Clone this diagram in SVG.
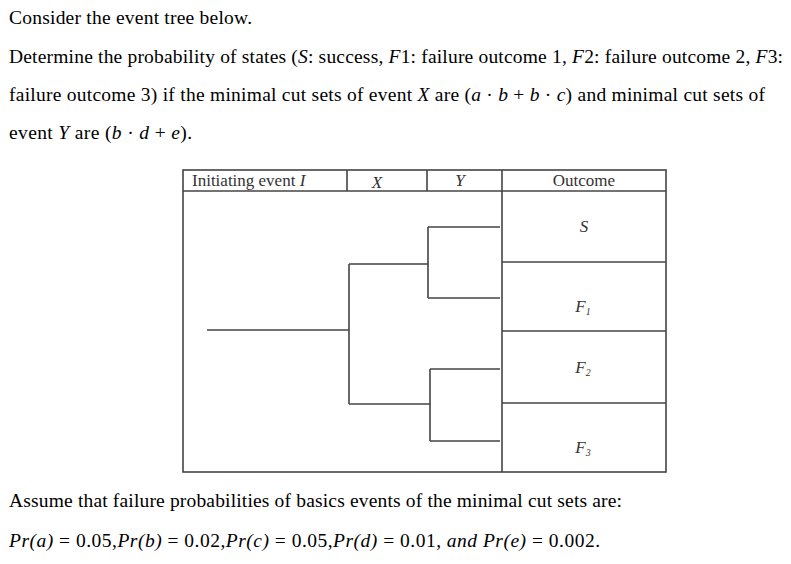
<svg xmlns="http://www.w3.org/2000/svg" width="791" height="564" viewBox="0 0 791 564">
<style>
text{font-family:"Liberation Serif","Times New Roman",serif;fill:#000}
.t{font-size:19.5px}
.i{font-style:italic}
.h{font-size:17px;fill:#333}
.l{stroke:#444;stroke-width:1.6;fill:none}
</style>
<rect width="791" height="564" fill="#fff"/>
<text class="t" x="9" y="24" textLength="243">Consider the event tree below.</text>
<text class="t" x="9" y="63" textLength="774">Determine the probability of states (<tspan class="i">S</tspan>: success, <tspan class="i">F</tspan>1: failure outcome 1, <tspan class="i">F</tspan>2: failure outcome 2, <tspan class="i">F</tspan>3:</text>
<text class="t" x="9" y="101" textLength="756">failure outcome 3) if the minimal cut sets of event <tspan class="i">X</tspan> are (<tspan class="i">a</tspan> · <tspan class="i">b</tspan> + <tspan class="i">b</tspan> · <tspan class="i">c</tspan>) and minimal cut sets of</text>
<text class="t" x="9" y="139" textLength="183">event <tspan class="i">Y</tspan> are (<tspan class="i">b</tspan> · <tspan class="i">d</tspan> + <tspan class="i">e</tspan>).</text>
<g id="table">
<rect class="l" x="183" y="170" width="483" height="302"/>
<line class="l" x1="183" y1="191" x2="666" y2="191"/>
<line class="l" x1="347" y1="170" x2="347" y2="191"/>
<line class="l" x1="427" y1="170" x2="427" y2="191"/>
<line class="l" x1="502" y1="170" x2="502" y2="472"/>
<line class="l" x1="502" y1="262" x2="666" y2="262"/>
<line class="l" x1="502" y1="331" x2="666" y2="331"/>
<line class="l" x1="502" y1="403" x2="666" y2="403"/>
<text class="h" x="192" y="186" font-size="17.5">Initiating event <tspan class="i">I</tspan></text>
<text class="h i" x="377" y="188" text-anchor="middle">X</text>
<text class="h i" x="460" y="186" text-anchor="middle">Y</text>
<text class="h" x="584" y="186" text-anchor="middle">Outcome</text>
</g>
<g id="outcomes">
<text class="h i" x="584" y="232" text-anchor="middle">S</text>
<text class="h i" x="583" y="312" text-anchor="middle">F<tspan font-size="10" dy="3">1</tspan></text>
<text class="h i" x="583" y="373" text-anchor="middle">F<tspan font-size="10" dy="3">2</tspan></text>
<text class="h i" x="583" y="453" text-anchor="middle">F<tspan font-size="10" dy="3">3</tspan></text>
</g>
<g id="connectors">
<path class="l" d="M207 330H349M349 264V404M349 264H428M428 227V298M428 227H500M428 298H500M349 404H430M430 369V441M430 369H500M430 441H500"/>
</g>
<text class="t" x="9" y="507" textLength="613">Assume that failure probabilities of basics events of the minimal cut sets are:</text>
<text class="t i" x="9" y="547" textLength="591">Pr(a)<tspan font-style="normal"> = 0.05,</tspan>Pr(b)<tspan font-style="normal"> = 0.02,</tspan>Pr(c)<tspan font-style="normal"> = 0.05,</tspan>Pr(d)<tspan font-style="normal"> = 0.01, </tspan>and Pr(e)<tspan font-style="normal"> = 0.002.</tspan></text>
</svg>
